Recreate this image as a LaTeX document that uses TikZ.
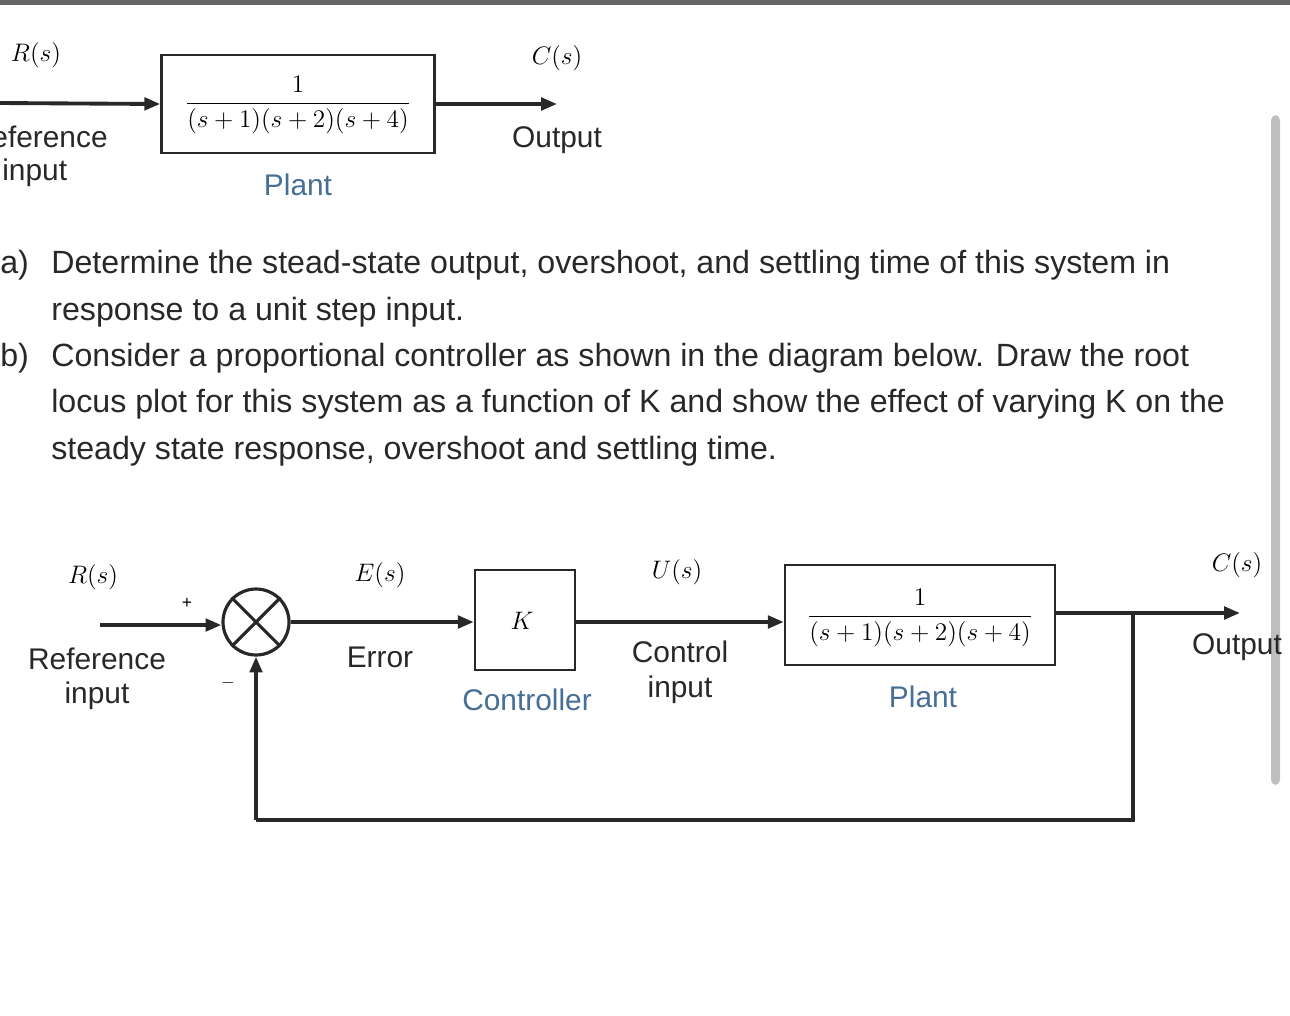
\documentclass[tikz,border=0pt]{standalone}
\usepackage{fontspec}
\setmainfont{Liberation Sans}
\usetikzlibrary{arrows.meta}
\definecolor{plantc}{RGB}{70,110,150}
\definecolor{blk}{RGB}{40,40,40}
\begin{document}
\begin{tikzpicture}[x=0.02cm,y=-0.02cm,
  lbl/.style={font=\fontsize{17}{20}\selectfont,text=blk,inner sep=0},
  blu/.style={font=\fontsize{17}{20}\selectfont,text=plantc,inner sep=0},
  mth/.style={font=\fontsize{14}{17}\selectfont,inner sep=0},
  blk/.style={draw=blk,line width=1.4pt,inner sep=0},
  arr/.style={draw=blk,line width=2.2pt,-{Triangle[length=9pt,width=7pt]}},
  ln/.style={draw=blk,line width=2.2pt},
  txt/.style={font=\fontsize{18.3}{23}\selectfont,inner sep=0,anchor=west,text=blk}]
\useasboundingbox (0,0) rectangle (1290,1015);
\fill[gray!80!black] (0,0) rectangle (1290,5);
\fill[gray!50,rounded corners=3] (1271,115) rectangle (1280,785);
% top diagram
\coordinate (t0) at (0,103);
\node[blk,minimum width=273*0.02cm,minimum height=98*0.02cm] (tp) at (298,104) {};
\node[mth] at (298,105) {$\displaystyle\frac{1}{(s+1)(s+2)(s+4)}$};
\coordinate (tout) at (557,104);
\draw[arr] (t0) -- (tp.west);
\draw[arr] (tp.east) -- (tout);
\node[mth] (tr) at (36,55) {$R(s)$};
\node[mth] (tc) at (557,58) {$C(s)$};
\node[lbl,anchor=east] (tref) at (108,137) {eference};
\node[lbl,anchor=west] (tin) at (2,173) {input};
\node[blu] (tpl) at (298,185) {Plant};
\node[lbl] (tou) at (557,140) {Output};
% text
\node[txt] (la0) at (0,265) {a)};
\node[txt] (la) at (51,265) {Determine the stead-state output, overshoot, and settling time of this system in};
\node[txt] (la2) at (51,312) {response to a unit step input.};
\node[txt] (lb0) at (0,358) {b)};
\node[txt] (lb) at (51,358) {Consider a proportional controller as shown in the diagram below. Draw the root};
\node[txt] (lb2) at (51,404) {locus plot for this system as a function of K and show the effect of varying K on the};
\node[txt] (lb3) at (51,451) {steady state response, overshoot and settling time.};
% bottom diagram
\coordinate (b0) at (100,625);
\node[draw=blk,line width=1.8pt,circle,minimum size=66*0.02cm,inner sep=0] (sum) at (256,622) {};
\draw[blk,line width=1.8pt] (sum.north west) -- (sum.south east) (sum.north east) -- (sum.south west);
\node[blk,minimum width=100*0.02cm,minimum height=100*0.02cm] (k) at (525,620) {};
\node[mth] at (522,621) {$K$};
\node[blk,minimum width=270*0.02cm,minimum height=100*0.02cm] (bp) at (920,615) {};
\node[mth] at (920,618) {$\displaystyle\frac{1}{(s+1)(s+2)(s+4)}$};
\coordinate (bout) at (1240,613);
\coordinate (fb) at (1133,613);
\coordinate (fb1) at (1133,820);
\coordinate (fb2) at (256,820);
\draw[arr] (b0) -- (sum.west|-b0);
\draw[arr] (sum.east) -- (k.west|-sum.east);
\draw[arr] (k.east|-0,622) -- (bp.west|-0,622);
\draw[arr] (bp.east|-bout) -- (bout);
\draw[ln] (fb) -- (fb1) -- (fb2);
\draw[arr] (fb2) -- (sum.south);
\node[mth] (br) at (93,577) {$R(s)$};
\node[font=\normalsize] (plus) at (187,603) {+};
\node[font=\normalsize] (minus) at (228,683) {$-$};
\node[mth] (be) at (380,575) {$E(s)$};
\node[mth] (bu) at (677,572) {$U(s)$};
\node[mth] (bc) at (1237,565) {$C(s)$};
\node[lbl] (bref) at (97,659) {Reference};
\node[lbl] (bin) at (97,696) {input};
\node[lbl] (ber) at (380,657) {Error};
\node[blu] (bco) at (527,700) {Controller};
\node[lbl] (bci) at (680,652) {Control};
\node[lbl] (bci2) at (680,690) {input};
\node[blu] (bpl) at (923,697) {Plant};
\node[lbl] (bou) at (1237,647) {Output};
\end{tikzpicture}
\end{document}
